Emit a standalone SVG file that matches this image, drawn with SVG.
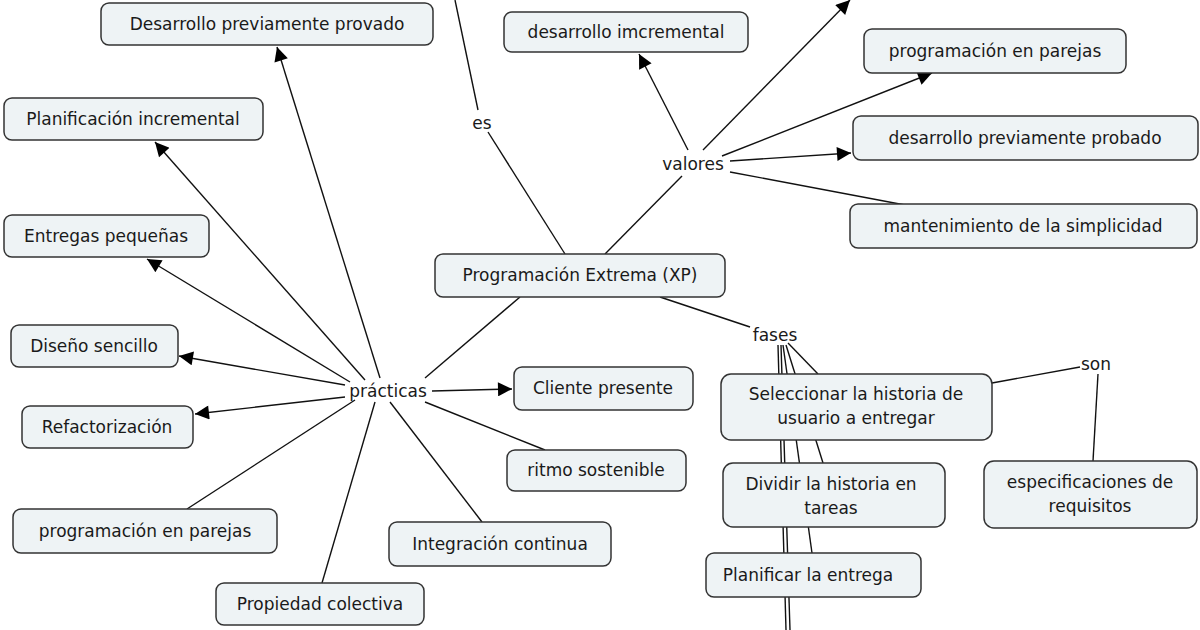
<svg xmlns="http://www.w3.org/2000/svg" width="1200" height="630" viewBox="0 0 1200 630">
<style>
.n rect{fill:#eef3f5;stroke:#333;stroke-width:1.5}
text{font-family:"DejaVu Sans",Verdana,sans-serif;font-size:17px;fill:#1a1a1a;text-anchor:middle}
#connectors line{stroke:#111;stroke-width:1.4}
</style>
<defs>
<marker id="a" viewBox="0 0 10 10" refX="10" refY="5" markerWidth="16" markerHeight="14" markerUnits="userSpaceOnUse" orient="auto"><path d="M0,0L10,5L0,10z" fill="#000"/></marker>
</defs>
<rect width="1200" height="630" fill="#fff"/>
<g id="connectors">
<line x1="455" y1="0" x2="478" y2="110"/>
<line x1="488" y1="132" x2="565" y2="254"/>
<line x1="605" y1="254" x2="682" y2="176"/>
<line x1="688" y1="150" x2="639" y2="54" marker-end="url(#a)"/>
<line x1="703" y1="150" x2="850" y2="0" marker-end="url(#a)"/>
<line x1="722" y1="156" x2="932" y2="73" marker-end="url(#a)"/>
<line x1="730" y1="161" x2="851" y2="153" marker-end="url(#a)"/>
<line x1="730" y1="172" x2="905" y2="205"/>
<line x1="520" y1="297" x2="425" y2="378"/>
<line x1="380" y1="378" x2="277" y2="47" marker-end="url(#a)"/>
<line x1="365" y1="380" x2="155" y2="142" marker-end="url(#a)"/>
<line x1="350" y1="382" x2="147" y2="259" marker-end="url(#a)"/>
<line x1="345" y1="385" x2="179" y2="356" marker-end="url(#a)"/>
<line x1="345" y1="397" x2="195" y2="414" marker-end="url(#a)"/>
<line x1="355" y1="400" x2="187" y2="509"/>
<line x1="375" y1="402" x2="322" y2="583"/>
<line x1="390" y1="402" x2="482" y2="522"/>
<line x1="425" y1="402" x2="545" y2="450"/>
<line x1="432" y1="391" x2="512" y2="389" marker-end="url(#a)"/>
<line x1="660" y1="297" x2="750" y2="327"/>
<line x1="778" y1="345" x2="786" y2="630"/>
<line x1="781" y1="345" x2="790" y2="630"/>
<line x1="783" y1="345" x2="812" y2="553"/>
<line x1="786" y1="345" x2="823" y2="463"/>
<line x1="788" y1="343" x2="818" y2="374"/>
<line x1="992" y1="383" x2="1080" y2="367"/>
<line x1="1098" y1="374" x2="1093" y2="461"/>
</g>
<g id="lbl-es"><text x="482" y="129">es</text></g>
<g id="lbl-valores"><text x="693" y="170">valores</text></g>
<g id="lbl-practicas"><text x="388" y="397">prácticas</text></g>
<g id="lbl-fases"><text x="775" y="341">fases</text></g>
<g id="lbl-son"><text x="1096" y="370">son</text></g>
<g id="n1" class="n"><rect x="101" y="3" width="332" height="42" rx="8"/><text x="267" y="30">Desarrollo previamente provado</text></g>
<g id="n2" class="n"><rect x="4" y="98" width="259" height="42" rx="8"/><text x="133" y="125">Planificación incremental</text></g>
<g id="n3" class="n"><rect x="4" y="215" width="205" height="42" rx="8"/><text x="106" y="242">Entregas pequeñas</text></g>
<g id="n4" class="n"><rect x="11" y="325" width="167" height="42" rx="8"/><text x="94" y="352">Diseño sencillo</text></g>
<g id="n5" class="n"><rect x="22" y="406" width="171" height="42" rx="8"/><text x="107" y="433">Refactorización</text></g>
<g id="n6" class="n"><rect x="13" y="509" width="264" height="44" rx="8"/><text x="145" y="537">programación en parejas</text></g>
<g id="n7" class="n"><rect x="216" y="583" width="208" height="42" rx="8"/><text x="320" y="610">Propiedad colectiva</text></g>
<g id="n8" class="n"><rect x="389" y="522" width="222" height="44" rx="8"/><text x="500" y="550">Integración continua</text></g>
<g id="n9" class="n"><rect x="507" y="450" width="179" height="41" rx="8"/><text x="596" y="476">ritmo sostenible</text></g>
<g id="n10" class="n"><rect x="514" y="367" width="179" height="43" rx="8"/><text x="603" y="394">Cliente presente</text></g>
<g id="n11" class="n"><rect x="435" y="254" width="290" height="43" rx="8"/><text x="580" y="281">Programación Extrema (XP)</text></g>
<g id="n12" class="n"><rect x="504" y="12" width="244" height="40" rx="8"/><text x="626" y="38">desarrollo imcremental</text></g>
<g id="n13" class="n"><rect x="864" y="29" width="262" height="44" rx="8"/><text x="995" y="57">programación en parejas</text></g>
<g id="n14" class="n"><rect x="853" y="116" width="345" height="44" rx="8"/><text x="1025" y="144">desarrollo previamente probado</text></g>
<g id="n15" class="n"><rect x="850" y="204" width="347" height="44" rx="8"/><text x="1023" y="232">mantenimiento de la simplicidad</text></g>
<g id="n16" class="n"><rect x="721" y="374" width="271" height="66" rx="10"/><text x="856" y="400">Seleccionar la historia de</text><text x="856" y="424">usuario a entregar</text></g>
<g id="n17" class="n"><rect x="723" y="463" width="222" height="64" rx="10"/><text x="831" y="490">Dividir la historia en</text><text x="831" y="514">tareas</text></g>
<g id="n18" class="n"><rect x="706" y="553" width="215" height="44" rx="8"/><text x="808" y="581">Planificar la entrega</text></g>
<g id="n19" class="n"><rect x="984" y="461" width="213" height="67" rx="10"/><text x="1090" y="488">especificaciones de</text><text x="1090" y="512">requisitos</text></g>
</svg>
